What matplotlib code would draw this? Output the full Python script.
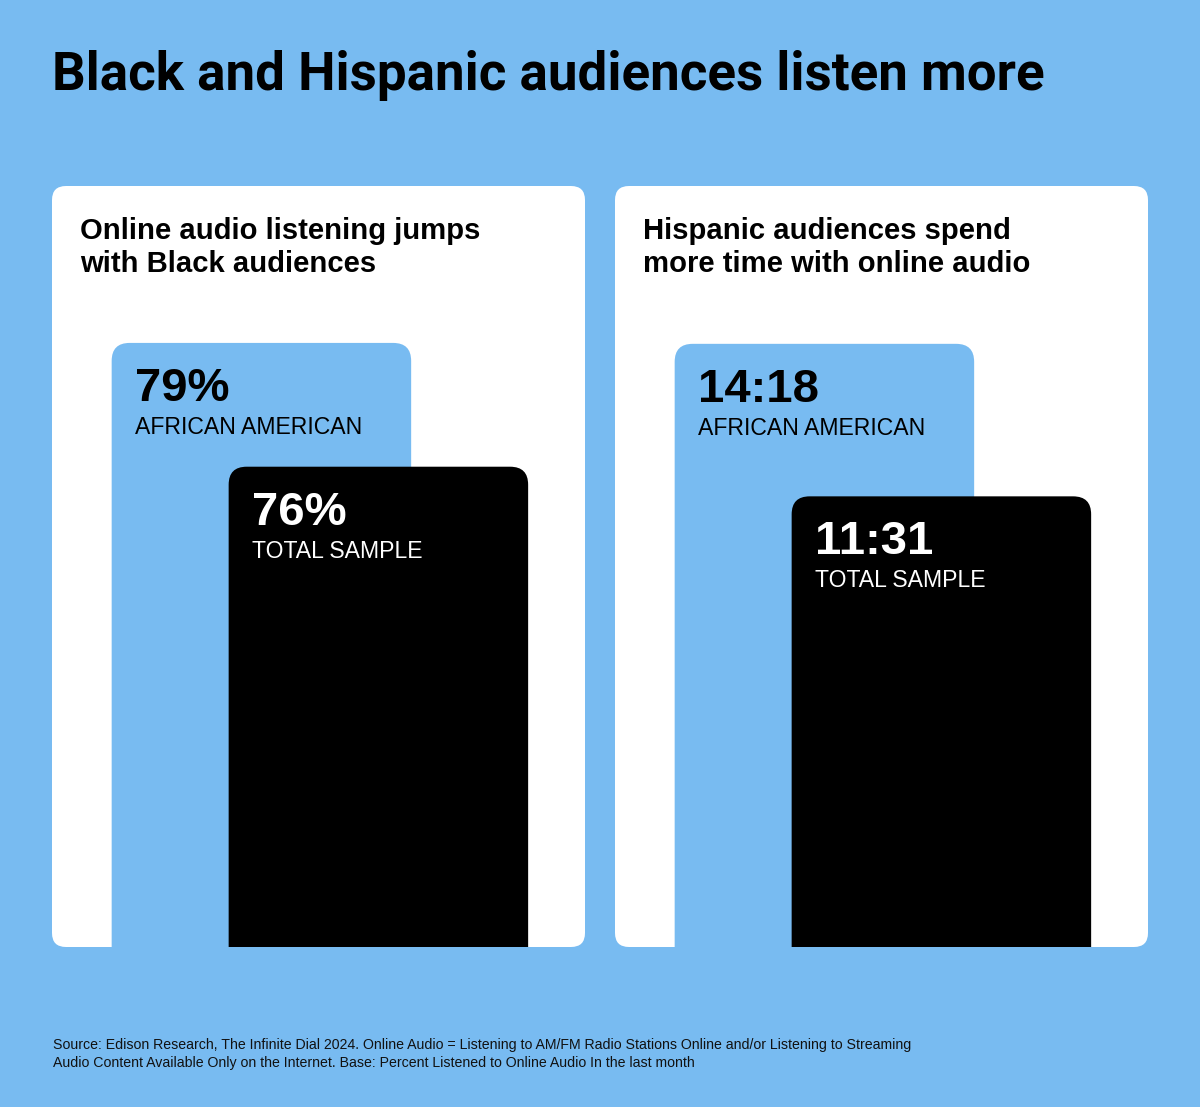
import matplotlib
matplotlib.use("Agg")
import matplotlib.pyplot as plt
from matplotlib.patches import FancyBboxPatch

# ── colours ──────────────────────────────────────────────────────────────────
BG    = "#78BBF1"
WHITE = "#FFFFFF"
BLACK = "#000000"
FONT  = "Liberation Sans"

# ── data ─────────────────────────────────────────────────────────────────────
TITLE = "Black and Hispanic audiences listen more"

left_title   = "Online audio listening jumps\nwith Black audiences"
left_groups  = ["AFRICAN AMERICAN", "TOTAL SAMPLE"]
left_values  = [79, 76]                       # percent
left_labels  = ["79%", "76%"]

right_title  = "Hispanic audiences spend\nmore time with online audio"
right_groups = ["AFRICAN AMERICAN", "TOTAL SAMPLE"]
right_values = [14 + 18 / 60, 11 + 31 / 60]   # minutes
right_labels = ["14:18", "11:31"]

SOURCE = ("Source: Edison Research, The Infinite Dial 2024. Online Audio = Listening to AM/FM Radio Stations Online and/or Listening to Streaming\n"
          "Audio Content Available Only on the Internet. Base: Percent Listened to Online Audio In the last month")

# ── figure ───────────────────────────────────────────────────────────────────
W, H = 1200, 1107
fig = plt.figure(figsize=(W / 100, H / 100), dpi=100, facecolor=BG)

# background axes in pixel units (y down)
bg = fig.add_axes([0, 0, 1, 1])
bg.set_xlim(0, W)
bg.set_ylim(H, 0)
bg.axis("off")
bg.set_facecolor(BG)

bg.text(52, 90, TITLE, fontsize=38.1, fontweight="bold", family=["Roboto", FONT],
        color=BLACK, ha="left", va="baseline")

# multi-line text: va="baseline" anchors the last line
PANELS = [(52, left_title), (615, right_title)]
PANEL_W, PANEL_TOP, PANEL_BOT = 533, 186, 947
for px, ttl in PANELS:
    bg.add_patch(FancyBboxPatch((px, PANEL_TOP), PANEL_W, PANEL_BOT - PANEL_TOP,
                                boxstyle="round,pad=0,rounding_size=14",
                                facecolor=WHITE, edgecolor="none", zorder=1))
    bg.text(px + 28, 272.5, ttl, fontsize=21.1, fontweight="bold", family=FONT,
            color=BLACK, ha="left", va="baseline", linespacing=1.24, zorder=3)

bg.text(53, 1067.5, SOURCE, fontsize=10.2, family=FONT, color="#111111",
        ha="left", va="baseline", linespacing=1.38)

# ── bar panels ───────────────────────────────────────────────────────────────
AX_TOP = 300          # pixel row of axes top
BAR_W  = 2.56         # in category units (1 unit = offset between bars)
XLIM   = (-1.79, 2.766)


def bar_panel(px, values, labels, groups, ylim):
    ax = fig.add_axes([px / W, 1 - PANEL_BOT / H, PANEL_W / W, (PANEL_BOT - AX_TOP) / H])
    ax.set_xlim(*XLIM)
    ax.set_ylim(*ylim)
    ax.axis("off")
    ax.patch.set_alpha(0)
    # aspect correction so rounded corners stay circular
    bbox = ax.get_window_extent()
    x_per_px = (XLIM[1] - XLIM[0]) / bbox.width
    y_per_px = (ylim[1] - ylim[0]) / bbox.height
    r = 18 * x_per_px
    colors = [BG, BLACK]
    txt_col = [BLACK, WHITE]
    for i, (v, lab, grp) in enumerate(zip(values, labels, groups)):
        x0 = i - BAR_W / 2
        y0 = ylim[0] - 40 * y_per_px
        p = FancyBboxPatch((x0, y0), BAR_W, v - y0,
                           boxstyle=f"round,pad=0,rounding_size={r}",
                           mutation_aspect=y_per_px / x_per_px,
                           facecolor=colors[i], edgecolor="none", zorder=2 + i)
        ax.add_patch(p)
        ax.annotate(lab, xy=(x0, v), xytext=(23, -58), textcoords="offset pixels",
                    fontsize=34, fontweight="bold", family=FONT, color=txt_col[i],
                    ha="left", va="baseline", zorder=5 + i, annotation_clip=False)
        ax.annotate(grp, xy=(x0, v), xytext=(23, -91), textcoords="offset pixels",
                    fontsize=16.6, family=FONT, color=txt_col[i],
                    ha="left", va="baseline", zorder=5 + i, annotation_clip=False)
    return ax


bar_panel(52, left_values, left_labels, left_groups, (64.36, 80.04))
bar_panel(615, right_values, right_labels, right_groups, (3.292, 15.10))

fig.savefig("out.png", dpi=100, facecolor=BG)
